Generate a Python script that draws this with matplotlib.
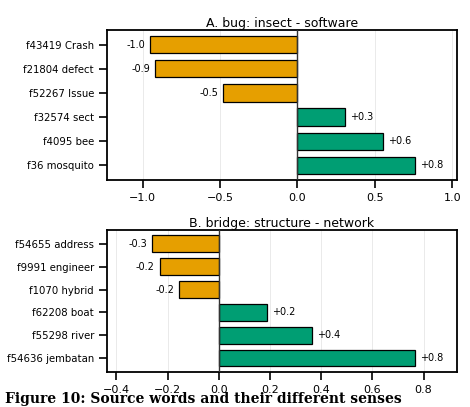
import matplotlib
matplotlib.use("Agg")
import matplotlib.pyplot as plt

a_labels = ["f43419 Crash", "f21804 defect", "f52267 Issue", "f32574 sect", "f4095 bee", "f36 mosquito"]
a_vals = [-0.955, -0.92, -0.48, 0.31, 0.555, 0.76]
a_text = ["-1.0", "-0.9", "-0.5", "+0.3", "+0.6", "+0.8"]
b_labels = ["f54655 address", "f9991 engineer", "f1070 hybrid", "f62208 boat", "f55298 river", "f54636 jembatan"]
b_vals = [-0.26, -0.23, -0.155, 0.19, 0.365, 0.765]
b_text = ["-0.3", "-0.2", "-0.2", "+0.2", "+0.4", "+0.8"]

fig = plt.figure(figsize=(4.70, 4.07), dpi=100)
axA = fig.add_axes([0.228, 0.558, 0.744, 0.368])
axB = fig.add_axes([0.228, 0.086, 0.744, 0.349])

def draw(ax, labels, vals, texts, title, xlim, xticks, off):
    y = list(range(len(labels)))[::-1]
    cols = ["#E69F00" if v < 0 else "#009E73" for v in vals]
    ax.barh(y, vals, color=cols, edgecolor="black", linewidth=0.9, height=0.72, zorder=3)
    for yi, v, t in zip(y, vals, texts):
        ax.text(v + (off if v > 0 else -off), yi, t, ha="left" if v > 0 else "right",
                va="center", fontsize=7)
    ax.axvline(0, color="#333333", lw=1.0, zorder=4)
    ax.set_yticks(y)
    ax.set_yticklabels(labels, fontsize=7.3)
    ax.set_xticks(xticks)
    ax.set_xlim(*xlim)
    ax.set_ylim(-0.6, len(labels) - 0.4)
    ax.tick_params(axis="x", labelsize=8, length=6, width=1.2)
    ax.tick_params(axis="y", length=6, width=1.2)
    ax.grid(axis="x", color="#e6e6e6", lw=0.6, zorder=0)
    for s in ax.spines.values():
        s.set_linewidth(1.3)
    ax.set_title(title, fontsize=9, pad=2)

draw(axA, a_labels, a_vals, a_text, "A. bug: insect - software", (-1.23, 1.03), [-1.0, -0.5, 0.0, 0.5, 1.0], 0.03)
draw(axB, b_labels, b_vals, b_text, "B. bridge: structure - network", (-0.436, 0.93), [-0.4, -0.2, 0.0, 0.2, 0.4, 0.6, 0.8], 0.02)

fig.text(0.01, 0.002, "Figure 10: Source words and their different senses", fontsize=10,
         family="DejaVu Serif", fontweight="bold", va="bottom")
fig.savefig("out.png", dpi=100)
